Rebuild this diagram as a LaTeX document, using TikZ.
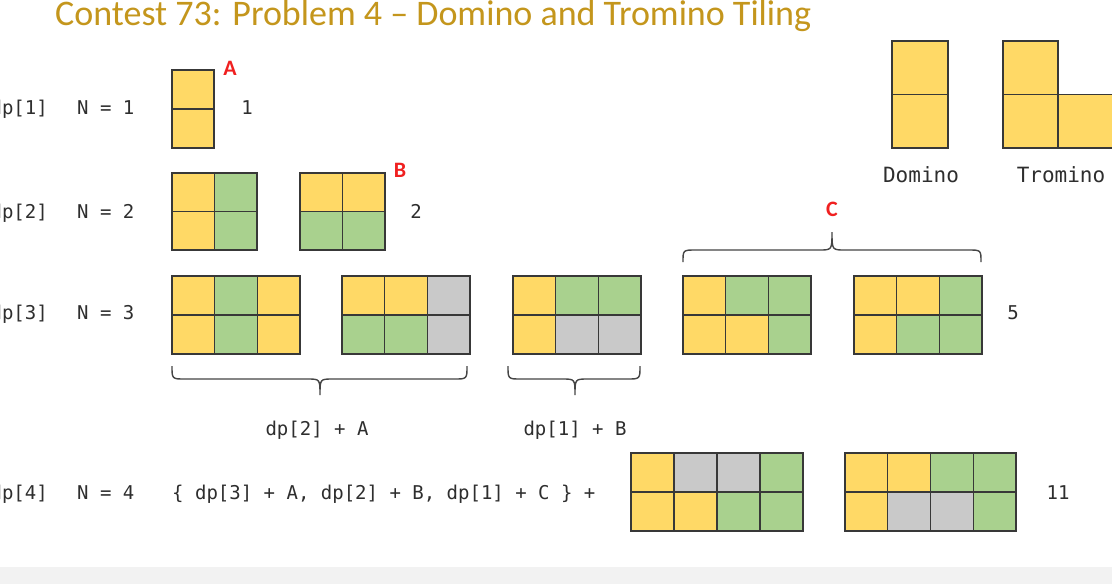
\documentclass[tikz,border=0pt]{standalone}
\usepackage{fontspec}
\newfontfamily\monof{DejaVu Sans Mono}
\newfontfamily\carl{Carlito}
\definecolor{ty}{HTML}{FFD966}
\definecolor{tg}{HTML}{A9D18E}
\definecolor{ts}{HTML}{C9C9C9}
\definecolor{edgec}{HTML}{383838}
\definecolor{gold}{HTML}{C4961C}
\definecolor{txt}{HTML}{2E2E2E}
\definecolor{lab}{HTML}{F02020}
\definecolor{bracec}{HTML}{454545}
\tikzset{
  cellbox/.style={draw=edgec, line width=1.3pt},
  monotxt/.style={text=txt, font=\monof\fontsize{19}{19}\selectfont, inner sep=0pt},
  bigmono/.style={text=txt, font=\monof\fontsize{21}{21}\selectfont, inner sep=0pt},
  redlab/.style={text=lab, font=\carl\bfseries\fontsize{22}{22}\selectfont, inner sep=0pt},
  titletxt/.style={text=gold, font=\carl\fontsize{36}{36}\selectfont, inner sep=0pt},
  bracestyle/.style={draw=bracec, line width=1.4pt}
}
% x0, ytop, cell width, cell height, colours
\newcommand\cellrow[5]{\foreach \c [count=\i from 0] in {#5}{\filldraw[cellbox,fill=\c] ({#1+\i*#3},{#2}) rectangle ++(#3,{-#4});}}
% x1, x2, xm, y ends, y line, y tip
\newcommand\obrace[6]{\draw[bracestyle] (#1,#4) .. controls (#1,#5) .. (#1+13,#5) -- (#3-13,#5) .. controls (#3,#5) .. (#3,#6) .. controls (#3,#5) .. (#3+13,#5) -- (#2-13,#5) .. controls (#2,#5) .. (#2,#4);}
\begin{document}
\begin{tikzpicture}[x=1pt,y=1pt]
\useasboundingbox (0,0) rectangle (1112,-584);
\fill[white] (0,0) rectangle (1112,-584);
\fill[black!5] (0,-567) rectangle (1112,-584);

% title
\node[titletxt, anchor=base west] (title) at (55,-25) {Contest 73: Problem 4 – Domino and Tromino Tiling};

% row labels
\node[monotxt, anchor=base east] (dp1) at (48,-114) {dp[1]};
\node[monotxt, anchor=base west] (n1) at (77,-114) {N = 1};
\node[monotxt, anchor=base east] (dp2) at (48,-218) {dp[2]};
\node[monotxt, anchor=base west] (n2) at (77,-218) {N = 2};
\node[monotxt, anchor=base east] (dp3) at (48,-319) {dp[3]};
\node[monotxt, anchor=base west] (n3) at (77,-319) {N = 3};
\node[monotxt, anchor=base east] (dp4) at (48,-499) {dp[4]};
\node[monotxt, anchor=base west] (n4) at (77,-499) {N = 4};
\node[monotxt, anchor=base west] (sum4) at (172,-499) {\{ dp[3] + A, dp[2] + B, dp[1] + C \} +};

% counts
\node[monotxt, anchor=base] (c1) at (247,-114) {1};
\node[monotxt, anchor=base] (c2) at (416,-218) {2};
\node[monotxt, anchor=base] (c3) at (1013,-319) {5};
\node[monotxt, anchor=base] (c4) at (1058,-499) {11};

% N = 1
\cellrow{172}{-70}{42}{39}{ty}
\cellrow{172}{-109}{42}{39}{ty}
\node[redlab] (la) at (230,-68) {A};

% N = 2
\cellrow{172}{-173}{42.5}{38.5}{ty,tg}
\cellrow{172}{-211.5}{42.5}{38.5}{ty,tg}
\cellrow{300}{-173}{42.5}{38.5}{ty,ty}
\cellrow{300}{-211.5}{42.5}{38.5}{tg,tg}
\node[redlab] (lb) at (400,-170) {B};

% N = 3
\cellrow{172}{-276}{42.67}{39}{ty,tg,ty}
\cellrow{172}{-315}{42.67}{39}{ty,tg,ty}
\cellrow{342}{-276}{42.67}{39}{ty,ty,ts}
\cellrow{342}{-315}{42.67}{39}{tg,tg,ts}
\cellrow{513}{-276}{42.67}{39}{ty,tg,tg}
\cellrow{513}{-315}{42.67}{39}{ty,ts,ts}
\cellrow{683}{-276}{42.67}{39}{ty,tg,tg}
\cellrow{683}{-315}{42.67}{39}{ty,ty,tg}
\cellrow{854}{-276}{42.67}{39}{ty,ty,tg}
\cellrow{854}{-315}{42.67}{39}{ty,tg,tg}

% braces
\obrace{172}{467}{320}{-366}{-379}{-395}
\obrace{508}{640}{575}{-366}{-379}{-395}
\obrace{683}{981}{832}{-262}{-250}{-232}
\node[monotxt, anchor=base] (bl1) at (317,-435) {dp[2] + A};
\node[monotxt, anchor=base] (bl2) at (575,-435) {dp[1] + B};
\node[redlab] (lc) at (832,-209) {C};

% N = 4
\cellrow{631}{-453}{43}{39}{ty,ts,ts,tg}
\cellrow{631}{-492}{43}{39}{ty,ty,tg,tg}
\cellrow{845}{-453}{42.75}{39}{ty,ty,tg,tg}
\cellrow{845}{-492}{42.75}{39}{ty,ts,ts,tg}

% legend
\cellrow{892}{-41}{56}{53.5}{ty}
\cellrow{892}{-94.5}{56}{53.5}{ty}
\cellrow{1003}{-41}{55}{53.5}{ty}
\cellrow{1003}{-94.5}{55}{53.5}{ty,ty}
\node[bigmono, anchor=base] (ldom) at (921,-182) {Domino};
\node[bigmono, anchor=base] (ltro) at (1061,-182) {Tromino};
\end{tikzpicture}
\end{document}
